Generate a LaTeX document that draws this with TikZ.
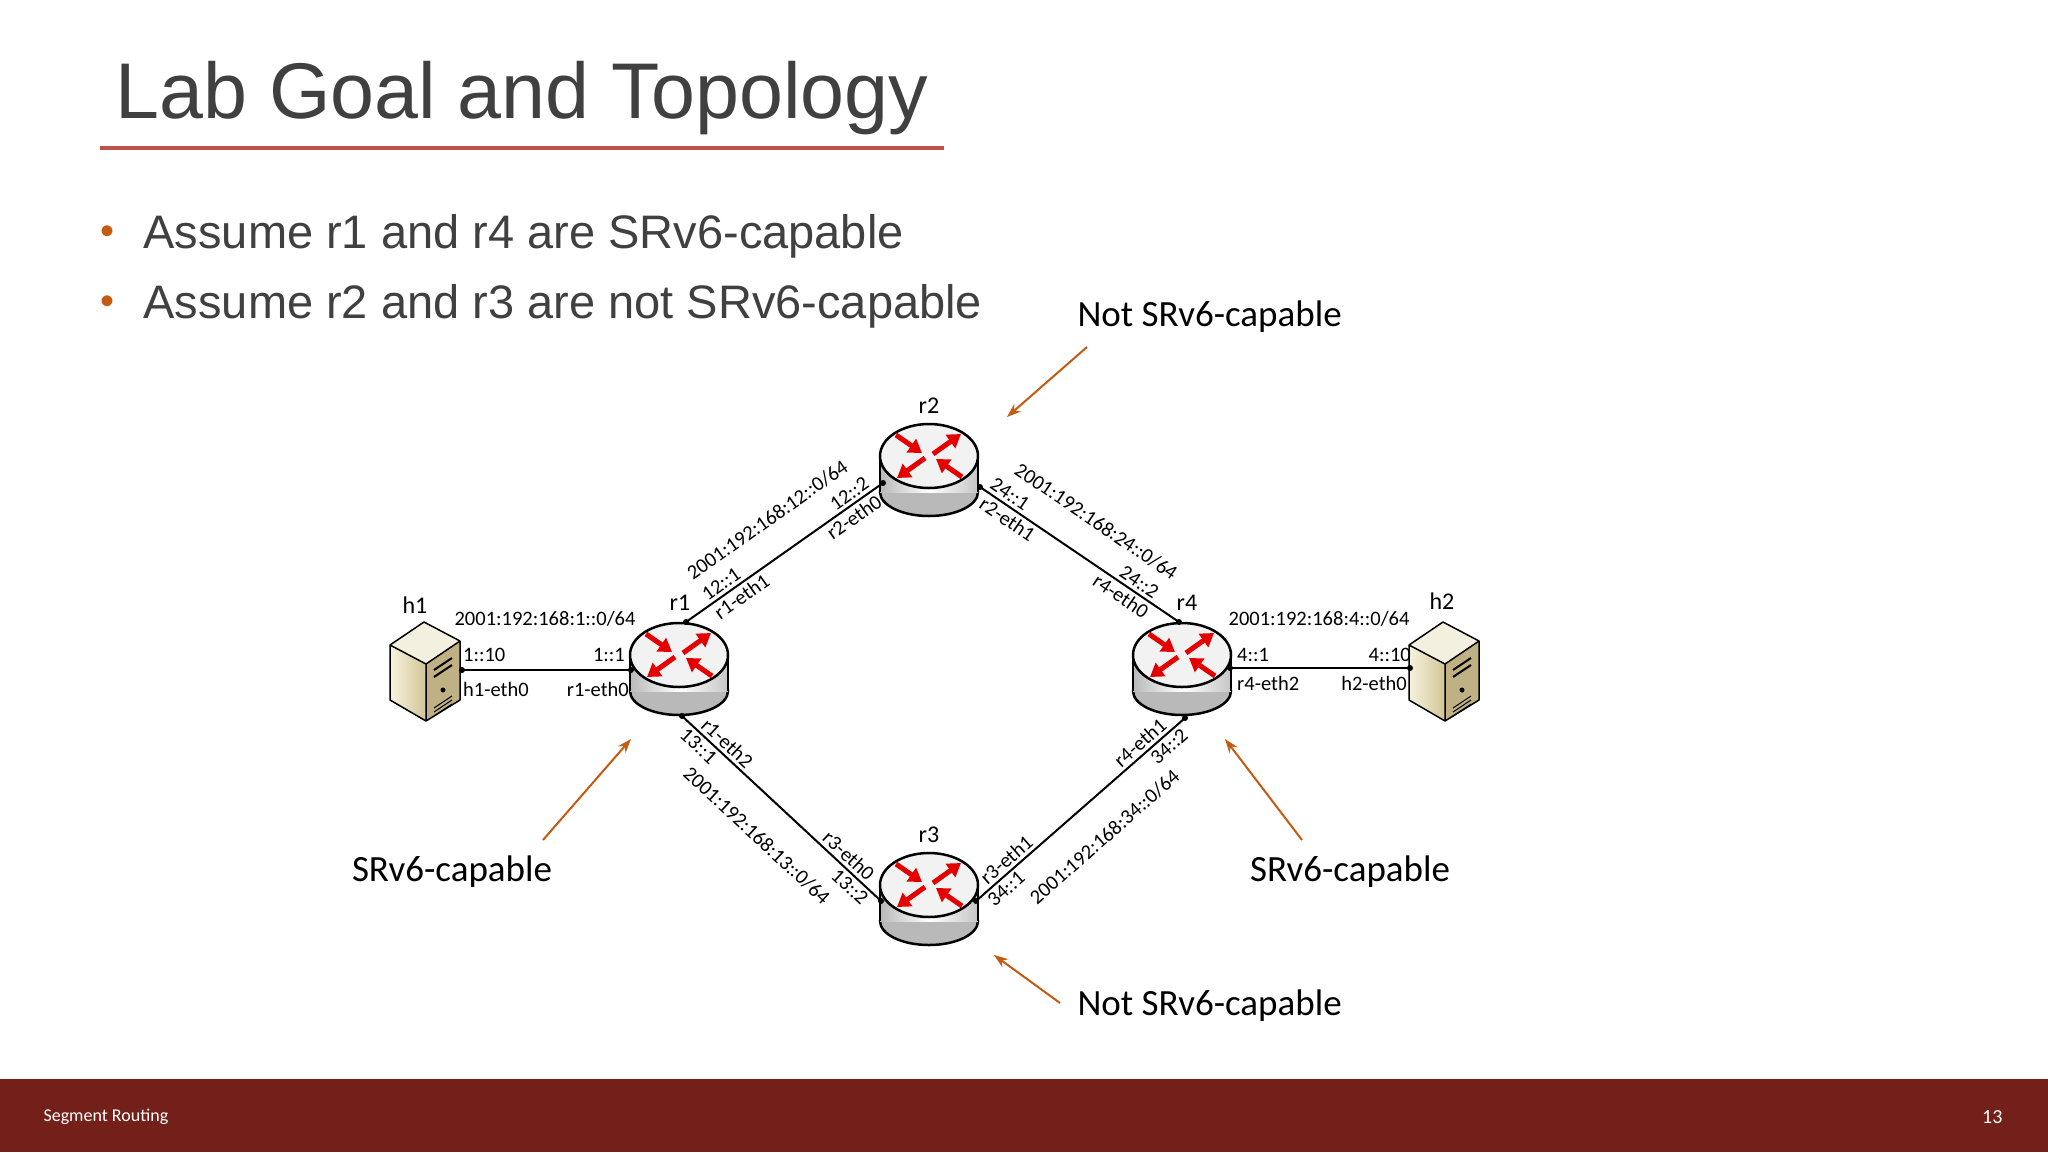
\documentclass[tikz,border=0pt]{standalone}
\usepackage{fontspec}
\setmainfont{Liberation Sans}
\newfontfamily\calfont{Carlito}
\usetikzlibrary{arrows.meta,shapes.geometric}
\definecolor{footer}{HTML}{74201A}
\definecolor{accent}{HTML}{C0504D}
\definecolor{callout}{HTML}{C55A11}
\definecolor{txt}{HTML}{404040}
\definecolor{srvtop}{HTML}{F4F0E0}
\definecolor{srvl1}{HTML}{F6F2DE}
\definecolor{srvl2}{HTML}{D2C596}
\definecolor{srvr}{HTML}{BFB184}
\tikzset{
  link/.style={line width=2pt,black},
  lbl/.style={font=\calfont\fontsize{20.5}{20.5}\selectfont,inner sep=1pt,sloped},
  hlbl/.style={font=\calfont\fontsize{20.5}{20.5}\selectfont,inner sep=1pt},
  nlbl/.style={font=\calfont\fontsize{24}{24}\selectfont},
  callt/.style={font=\calfont\fontsize{37}{37}\selectfont,text=black},
  carrow/.style={callout,line width=2pt,-{Stealth[length=14pt,width=10pt]}},
  bul/.style={font=\fontsize{47}{47}\selectfont,text=txt,anchor=west},
  hbox/.style={minimum width=72pt,minimum height=100pt,inner sep=0pt},
  rbox/.style={minimum width=98pt,minimum height=92pt,inner sep=0pt},
  rarr/.style={red!90!black,line width=5pt,-{Triangle[length=13pt,width=16pt]}},
  router/.pic={
    \fill[gray!55] (0,22) ellipse [x radius=49pt,y radius=24pt];
    \draw[line width=2.5pt] (0,22) ellipse [x radius=49pt,y radius=24pt];
    \shade[left color=gray!55,right color=gray!45,middle color=white] (-49,-14) rectangle (49,22);
    \draw[line width=2.5pt] (-49,-14) -- (-49,22) (49,-14) -- (49,22);
    \fill[gray!10] (0,-14) ellipse [x radius=49pt,y radius=32pt];
    \draw[line width=2.5pt] (0,-14) ellipse [x radius=49pt,y radius=32pt];
    \draw[rarr] (4,-16) -- (32,-36);
    \draw[rarr] (-4,-12) -- (-32,8);
    \draw[rarr] (-33,-35) -- (-7,-17);
    \draw[rarr] (33,7) -- (7,-11);
  },
  server/.pic={
    \fill[srvtop] (-34,-25) -- (0,-48) -- (36,-29) -- (2,-6) -- cycle;
    \shade[left color=srvl1, right color=srvl2] (-34,-25) -- (2,-6) -- (2,51) -- (-34,30) -- cycle;
    \fill[srvr] (2,-6) -- (36,-29) -- (36,30) -- (2,51) -- cycle;
    \draw[line width=1.5pt,line join=round] (-34,-25) -- (0,-48) -- (36,-29) -- (36,30) -- (2,51) -- (-34,30) -- cycle (-34,-25) -- (2,-6) -- (36,-29) (2,-6) -- (2,51);
    \draw[line width=2pt] (10,0) -- (28,-12) (10,7) -- (28,-5);
    \fill (19,20) circle (2.5pt);
    \draw[line width=1pt] (10,38) -- (28,26) (10,42) -- (28,30) (10,46) -- (28,34);
  }
}
\begin{document}
\begin{tikzpicture}[x=1pt,y=-1pt]
\useasboundingbox (0,0) rectangle (2048,1152);
\fill[white] (0,0) rectangle (2048,1152);
% title
\node[anchor=west,font=\fontsize{79}{79}\selectfont,text=txt] (title) at (112,98) {Lab Goal and Topology};
\draw[accent,line width=4pt] (100,148) -- (944,148);
\node[bul] (b1) at (140,236) {Assume r1 and r4 are SRv6-capable};
\node[bul] (b2) at (140,306) {Assume r2 and r3 are not SRv6-capable};
\node[font=\fontsize{40}{40}\selectfont,text=callout] (d1) at (108,235) {•};
\node[font=\fontsize{40}{40}\selectfont,text=callout] (d2) at (108,305) {•};
% footer
\fill[footer] (0,1079) rectangle (2048,1152);
\node[anchor=west,text=white,font=\calfont\fontsize{18}{18}\selectfont] (ft) at (40,1117) {Segment Routing};
\node[anchor=east,text=white,font=\calfont\fontsize{20}{20}\selectfont] (pg) at (2006,1117) {13};
% nodes
\node[hbox] (h1) at (424,670) {};
\node[hbox] (h2) at (1443,670) {};
\pic at (h1) {server};
\pic at (h2) {server};
\node[rbox] (r1) at (679,669) {};
\node[rbox] (r2) at (929,470) {};
\node[rbox] (r3) at (929,899) {};
\node[rbox] (r4) at (1182,669) {};
\foreach \r in {r1,r2,r3,r4} {\pic at (\r) {router};}
\node[nlbl] (lh1) at (415,605) {h1};
\node[nlbl] (lh2) at (1442,601) {h2};
\node[nlbl] (lr1) at (680,603) {r1};
\node[nlbl] (lr2) at (929,406) {r2};
\node[nlbl] (lr3) at (929,835) {r3};
\node[nlbl] (lr4) at (1187,603) {r4};
% ports
\coordinate (p1) at (462,670);
\coordinate (p2) at (631,670);
\coordinate (p3) at (686,622);
\coordinate (p4) at (883,483);
\coordinate (p5) at (980,487);
\coordinate (p6) at (1179,622);
\coordinate (p7) at (682,716);
\coordinate (p8) at (881,901);
\coordinate (p9) at (976,901);
\coordinate (p10) at (1185,718);
\coordinate (p11) at (1230,668);
\coordinate (p12) at (1410,668);
% links
\draw[link] (p1) -- (p2);
\draw[link] (p11) -- (p12);
\draw[link] (p3) --
  node[lbl,pos=0.21,above=2pt] {12::1}
  node[lbl,pos=0.25,below=2pt] {r1-eth1}
  node[lbl,pos=0.86,above=2pt] {12::2}
  node[lbl,pos=0.82,below=2pt] {r2-eth0}
  node[lbl,pos=0.52,above=27pt] {2001:192:168:12::0/64} (p4);
\draw[link] (p5) --
  node[lbl,pos=0.12,above=2pt] {24::1}
  node[lbl,pos=0.17,below=2pt] {r2-eth1}
  node[lbl,pos=0.77,above=2pt] {24::2}
  node[lbl,pos=0.74,below=2pt] {r4-eth0}
  node[lbl,pos=0.48,above=27pt] {2001:192:168:24::0/64} (p6);
\draw[link] (p7) --
  node[lbl,pos=0.19,above=2pt] {r1-eth2}
  node[lbl,pos=0.12,below=2pt] {13::1}
  node[lbl,pos=0.8,above=2pt] {r3-eth0}
  node[lbl,pos=0.88,below=2pt] {13::2}
  node[lbl,pos=0.5,below=27pt] {2001:192:168:13::0/64} (p8);
\draw[link] (p9) --
  node[lbl,pos=0.18,above=2pt] {r3-eth1}
  node[lbl,pos=0.11,below=2pt] {34::1}
  node[lbl,pos=0.82,above=2pt] {r4-eth1}
  node[lbl,pos=0.89,below=2pt] {34::2}
  node[lbl,pos=0.5,below=27pt] {2001:192:168:34::0/64} (p10);
\foreach \p in {p1,p2,p3,p4,p5,p6,p7,p8,p9,p10,p11,p12} {\fill (\p) circle (3pt);}
% horizontal labels
\node[hlbl] (a1) at (545,619) {2001:192:168:1::0/64};
\node[hlbl,anchor=west] (a2) at (462,655) {1::10};
\node[hlbl,anchor=east] (a3) at (626,655) {1::1};
\node[hlbl,anchor=west] (a4) at (462,689) {h1-eth0};
\node[hlbl,anchor=east] (a5) at (630,689) {r1-eth0};
\node[hlbl] (a6) at (1319,619) {2001:192:168:4::0/64};
\node[hlbl,anchor=west] (a7) at (1236,655) {4::1};
\node[hlbl,anchor=east] (a8) at (1412,655) {4::10};
\node[hlbl,anchor=west] (a9) at (1236,683) {r4-eth2};
\node[hlbl,anchor=east] (a10) at (1408,683) {h2-eth0};
% callouts
\node[callt,anchor=west] (c1) at (1074,317) {Not SRv6-capable};
\node[callt,anchor=west] (c2) at (1074,1006) {Not SRv6-capable};
\node[callt] (c3) at (452,872) {SRv6-capable};
\node[callt] (c4) at (1350,872) {SRv6-capable};
\coordinate (t1) at (1087,347); \coordinate (e1) at (1007,417);
\coordinate (t2) at (1060,1003); \coordinate (e2) at (994,955);
\coordinate (t3) at (543,840); \coordinate (e3) at (631,739);
\coordinate (t4) at (1302,840); \coordinate (e4) at (1225,739);
\draw[carrow] (t1) -- (e1);
\draw[carrow] (t2) -- (e2);
\draw[carrow] (t3) -- (e3);
\draw[carrow] (t4) -- (e4);
\end{tikzpicture}
\end{document}
